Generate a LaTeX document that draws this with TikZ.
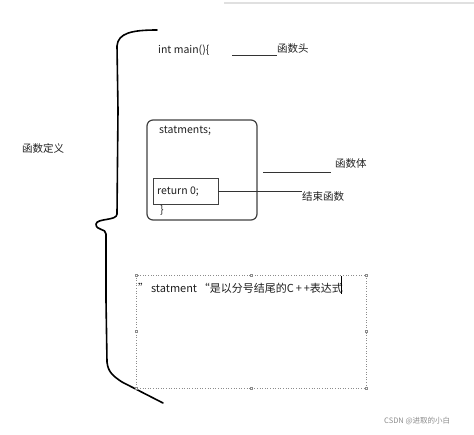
\documentclass[tikz,border=0pt]{standalone}
\usepackage{fontspec}
\setmainfont{Noto Sans CJK SC}
\begin{document}
\begin{tikzpicture}[x=1pt,y=-1pt,
  lbl/.style={anchor=west,inner sep=0pt,font=\fontsize{10.5}{12}\selectfont,text=black!88},
  conn/.style={draw=black!80,line width=0.9pt},
  brace/.style={draw=black,line width=1.6pt,line join=round,line cap=round},
  handle/.style={draw=black!45,fill=white,line width=0.4pt,minimum size=2.2pt,inner sep=0pt,rectangle}]
\useasboundingbox (0,0) rectangle (474,434);
% faint top line
\draw[black!12,line width=1.5pt] (224,3) -- (474,3);
% brace
\draw[brace] (157,30) .. controls (132,30) and (118,33) .. (117,46) -- (118,110) -- (117,214)
  .. controls (117,221) and (97,218) .. (96,224) .. controls (96,231) and (106,228) .. (106,234)
  -- (106,300) -- (107,362) .. controls (108,372) and (113,376) .. (122,382) -- (163,403);
\node[lbl] (def) at (22,148) {函数定义};
% header
\node[lbl] (head) at (158,50) {int main()\{};
\node[lbl] (headlbl) at (277,49) {函数头};
\coordinate (hs) at (232,55);
\draw[conn] (hs) -- (headlbl.west |- hs);
% body box
\draw[black!75,line width=1.2pt,rounded corners=6pt] (147,120) rectangle (257,220);
\node[lbl] (stm) at (159,131) {statments;};
\node[draw=black!75,line width=0.9pt,minimum width=65pt,minimum height=26pt,inner sep=0pt] (ret) at (185.5,191.5) {};
\node[lbl] (rettxt) at (157,192) {return 0;};
\node[lbl] (close) at (160,210) {\}};
\node[lbl] (bodylbl) at (335,164) {函数体};
\coordinate (bs) at (263,172);
\draw[conn] (bs) -- (331,172);
\node[lbl] (endlbl) at (302,197) {结束函数};
\draw[conn] (ret.east) -- (endlbl.west |- ret.east);
% dotted text box
\draw[black!45,dotted,line width=0.6pt] (136,275) rectangle (366,388);
\foreach \p in {(136,275),(251,275),(366,275),(136,331),(366,331),(136,388),(251,388),(366,388)}
  \node[handle] at \p {};
\node[lbl,font=\fontsize{11}{13}\selectfont] (stmt) at (138,288) {”\,statment\,“是以分号结尾的C\,+\,+表达式};
\draw[black,line width=0.6pt] (341,276) -- (341,294);
% watermark
\node[anchor=west,inner sep=0pt,font=\fontsize{7.5}{9}\selectfont,text=black!45] (wm) at (384,421) {CSDN @进取的小白};
\end{tikzpicture}
\end{document}
